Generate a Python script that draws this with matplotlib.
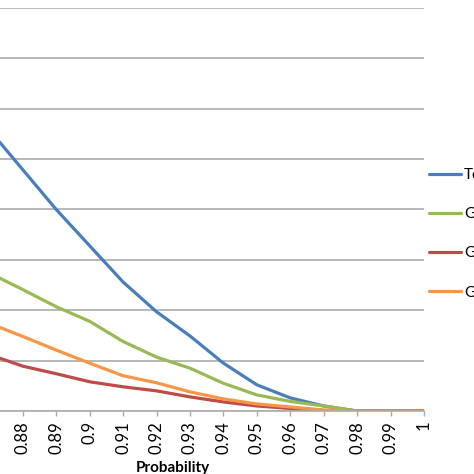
import numpy as np
import matplotlib.pyplot as plt

plt.rcParams['font.family'] = ['Lato', 'DejaVu Sans']

# category axis (only 0.88 .. 1 are visible; the rest lies left of the crop)
probability = ['0.85', '0.86', '0.87', '0.88', '0.89', '0.9', '0.91', '0.92',
               '0.93', '0.94', '0.95', '0.96', '0.97', '0.98', '0.99', '1']

# values in gridline units
total = [6.1, 5.85, 5.58, 4.79, 4.0, 3.28, 2.56, 1.97, 1.49, 0.95, 0.52, 0.26, 0.10, 0.0, 0.0, 0.0]
g_green = [2.95, 2.85, 2.74, 2.41, 2.07, 1.78, 1.38, 1.07, 0.85, 0.55, 0.32, 0.19, 0.10, 0.0, 0.0, 0.0]
g_red = [1.25, 1.18, 1.12, 0.89, 0.74, 0.58, 0.48, 0.40, 0.28, 0.18, 0.10, 0.05, 0.01, 0.0, 0.0, 0.0]
g_orange = [1.95, 1.85, 1.74, 1.48, 1.21, 0.95, 0.70, 0.56, 0.38, 0.24, 0.14, 0.08, 0.02, 0.0, 0.0, 0.0]

series = [('Total', total, '#4a7ebb'),
          ('G1', g_green, '#98b954'),
          ('G2', g_red, '#be4b48'),
          ('G3', g_orange, '#f79646')]

W = H = 474
fig = plt.figure(figsize=(W / 100, H / 100), dpi=100)
# plot area runs off the left edge of the figure, like the cropped original
left, right, top, bottom = -77.5, 424, 8, 411
ax = fig.add_axes([left / W, 1 - bottom / H, (right - left) / W, (bottom - top) / H])

x = np.arange(len(probability))
for name, vals, col in series:
    ax.plot(x, vals, color=col, lw=2.3, label=name, solid_capstyle='round')

ax.set_xlim(0, len(probability) - 1)
ax.set_ylim(0, 8)
ax.set_yticks(np.arange(0, 9))
ax.yaxis.grid(True, color='#ababab', lw=1.2)
ax.set_axisbelow(True)
ax.tick_params(axis='y', left=False, labelleft=False)

ax.set_xticks(x)
# labels of the categories left of the crop are not shown
shown = [p if i >= 3 else '' for i, p in enumerate(probability)]
ax.set_xticklabels(shown, rotation=90, fontsize=12)
ax.tick_params(axis='x', length=3.6, width=1, color='#ababab', pad=3.5)
ax.set_xlabel('Probability', fontsize=11, fontweight='bold', labelpad=5)

for s in ['top', 'right', 'left']:
    ax.spines[s].set_visible(False)
ax.spines['bottom'].set_color('#ababab')
ax.spines['bottom'].set_linewidth(1.2)

fig.legend(loc='upper left', bbox_to_anchor=(429 / W, 1 - 168 / H),
           bbox_transform=fig.transFigure, frameon=False, fontsize=11,
           handlelength=2.1, handletextpad=0.18, labelspacing=1.65,
           borderpad=0, borderaxespad=0)

fig.savefig('out.png', dpi=100)
